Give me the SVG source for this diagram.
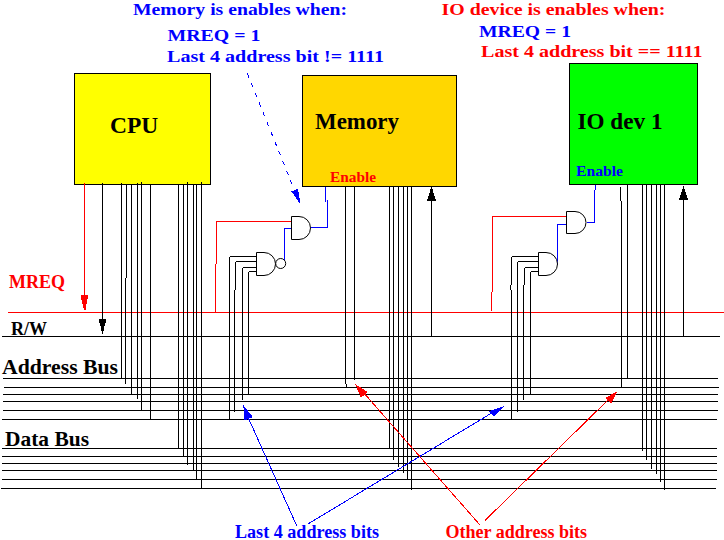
<svg xmlns="http://www.w3.org/2000/svg" width="724" height="540" viewBox="0 0 724 540">
<style>
text{font-family:"Liberation Serif",serif;font-weight:bold}
.k{fill:none;stroke:#000;stroke-width:1;shape-rendering:crispEdges}
.r{fill:none;stroke:#f00;stroke-width:1;shape-rendering:crispEdges}
.b{fill:none;stroke:#00f;stroke-width:1;shape-rendering:crispEdges}
.g{fill:#fff;stroke:#000;stroke-width:1}
.box{stroke:#000;stroke-width:1;shape-rendering:crispEdges}
.head{shape-rendering:crispEdges;stroke:none}
.top{font-size:17.500px}
.low{font-size:18px}
.bus{font-size:21.500px}
.name{font-size:23.500px}
.en{font-size:14.800px}
</style>
<rect width="724" height="540" fill="#fff"/>
<g id="cpu"><rect class="box" x="74.500" y="73.500" width="136" height="111" fill="#ff0"/><text class="name" x="110" y="132.500">CPU</text></g>
<g id="memory"><rect class="box" x="302.500" y="75.500" width="154" height="111" fill="#ffd700"/><text class="name" x="315" y="129" textLength="84" lengthAdjust="spacingAndGlyphs">Memory</text><text class="en" x="330" y="181.500" fill="#f00" textLength="46" lengthAdjust="spacingAndGlyphs">Enable</text></g>
<g id="io"><rect class="box" x="569.500" y="63.500" width="128" height="121" fill="#0f0"/><text class="name" x="577.500" y="128.700" textLength="85" lengthAdjust="spacingAndGlyphs">IO dev 1</text><text class="en" x="576" y="175.700" fill="#00f" textLength="47" lengthAdjust="spacingAndGlyphs">Enable</text></g>
<g id="wires">
<path class="r" d="M8 312.500H724"/>
<path class="k" d="M2 336.500H720M3 378.500H718M4 387.500H719M3 394.500H718M3 401.500H718M3 410.500H718M2 419.500H717M2 448.500H717M2 456.500H717M2 463.500H717M2 470.500H717M2 479.500H717M1 488.500H716"/>
<path class="k" d="M121.500 183V378.500M126.500 184V278M125.500 278V384M131.500 184V394M137.500 183V399M141.500 182V410M150.500 184V419M178.500 184V448M183.500 184V457M187.500 182V465M193.500 184V470M196.500 184V479M201.500 182V488"/>
<path class="k" d="M345.500 187V384M346.500 384V387M354.500 187V380M389.500 187V449M393.500 187V460M398.500 187V467M403.500 187V473M407.500 187V480M411.500 187V490"/>
<path class="k" d="M620.500 187V201M621.500 201V387M627.500 185V378.500M642.500 185V451M646.500 185V460M651.500 185V469M656.500 185V474M660.500 185V482M664.500 185V490"/>
<path class="k" d="M248.500 271.500V394M242.500 267.500V400M235.500 261.500V290M234.500 290V411.500M229.500 256.500V419M248.500 271.500H256M242.500 267.500H256M235.500 261.500H256M229.500 256.500H256"/>
<path class="k" d="M530.500 271.500V394M524.500 267.500V285M523.500 285V400M517.500 261.500V411.500M511.500 256.500V285M510.500 285V290M511.500 290V419M530.500 271.500H538M524.500 267.500H538M517.500 261.500H538M511.500 256.500H538"/>
<path class="r" d="M291 221.500H216.500V264M215.500 264V312M566 216.500H492.500V291.500M491.500 291.500V311M84.500 183V296"/>
<path class="b" d="M325.500 187V202M327.500 200V227.500H311M291 228.500H284.500V263M595.500 185V190M594.500 190V222.500H586.500M566.500 224.500H557.500V265"/>
<path class="k" d="M102.500 183V322M431.500 336V196M683.500 336V196"/>
<path class="head" d="M80.500 295H88.500L86.500 304L85.500 310H84L82.500 304Z" fill="#f00"/>
<path class="head" d="M98.500 319H106.500L104 328L103 334H102L101 328Z" fill="#000"/>
<path class="head" d="M431.500 186L433 191L436 201H427L430 191Z" fill="#000"/>
<path class="head" d="M683.500 186L685 191L688 199.500H679L682 191Z" fill="#000"/>
<path class="b" stroke-dasharray="4.500 6" d="M247.300 73.300L296 194"/>
<path class="head" d="M300.700 204.700L291.500 191.500L298 188.500Z" fill="#00f"/>
<path class="b" d="M296.700 525.700L247 415M308 524L495 411"/>
<path class="head" d="M243.300 405L252.700 417L244.500 420.500Z" fill="#00f"/>
<path class="head" d="M504 406L489 411L494 417Z" fill="#00f"/>
<path class="r" d="M480 525L363 392M485 520.500L610 398"/>
<path class="head" d="M355 384L367.700 392L361 397.700Z" fill="#f00"/>
<path class="head" d="M617.700 391L605 398L611 404Z" fill="#f00"/>
</g>
<g id="mem-and"><path class="g" d="M291.500 216.500H299A11.500 11.500 0 0 1 299 239.500H291.500Z"/></g>
<g id="mem-nand"><path class="g" d="M256.500 252.500H264A11.500 11.500 0 0 1 264 275.500H256.500Z"/><circle class="g" cx="280.700" cy="263.500" r="5"/></g>
<g id="io-and"><path class="g" d="M566.500 211.500H575A11 11 0 0 1 575 233.500H566.500Z"/></g>
<g id="io-nand"><path class="g" d="M538.500 252.500H546A11.500 11.500 0 0 1 546 275.500H538.500Z"/></g>
<g id="labels">
<text class="top" x="133" y="14.500" fill="#00f" textLength="214" lengthAdjust="spacingAndGlyphs">Memory is enables when:</text>
<text class="top" x="167.500" y="40.500" fill="#00f" textLength="93" lengthAdjust="spacingAndGlyphs">MREQ = 1</text>
<text class="top" x="167" y="61.500" fill="#00f" textLength="217" lengthAdjust="spacingAndGlyphs">Last 4 address bit != 1111</text>
<text class="top" x="441.500" y="14.500" fill="#f00" textLength="224" lengthAdjust="spacingAndGlyphs">IO device is enables when:</text>
<text class="top" x="479" y="37" fill="#00f" textLength="92" lengthAdjust="spacingAndGlyphs">MREQ = 1</text>
<text class="top" x="481" y="57" fill="#f00" textLength="221.500" lengthAdjust="spacingAndGlyphs">Last 4 address bit == 1111</text>
<text class="low" x="9" y="288" fill="#f00" textLength="56" lengthAdjust="spacingAndGlyphs">MREQ</text>
<text class="low" x="11" y="335" fill="#000" textLength="36" lengthAdjust="spacingAndGlyphs">R/W</text>
<text class="bus" x="2" y="374" fill="#000" textLength="116" lengthAdjust="spacingAndGlyphs">Address Bus</text>
<text class="bus" x="5" y="446" fill="#000" textLength="84" lengthAdjust="spacingAndGlyphs">Data Bus</text>
<text class="low" x="235" y="537.500" fill="#00f" textLength="144" lengthAdjust="spacingAndGlyphs">Last 4 address bits</text>
<text class="low" x="445.500" y="537.500" fill="#f00" textLength="141.500" lengthAdjust="spacingAndGlyphs">Other address bits</text>
</g>
</svg>
